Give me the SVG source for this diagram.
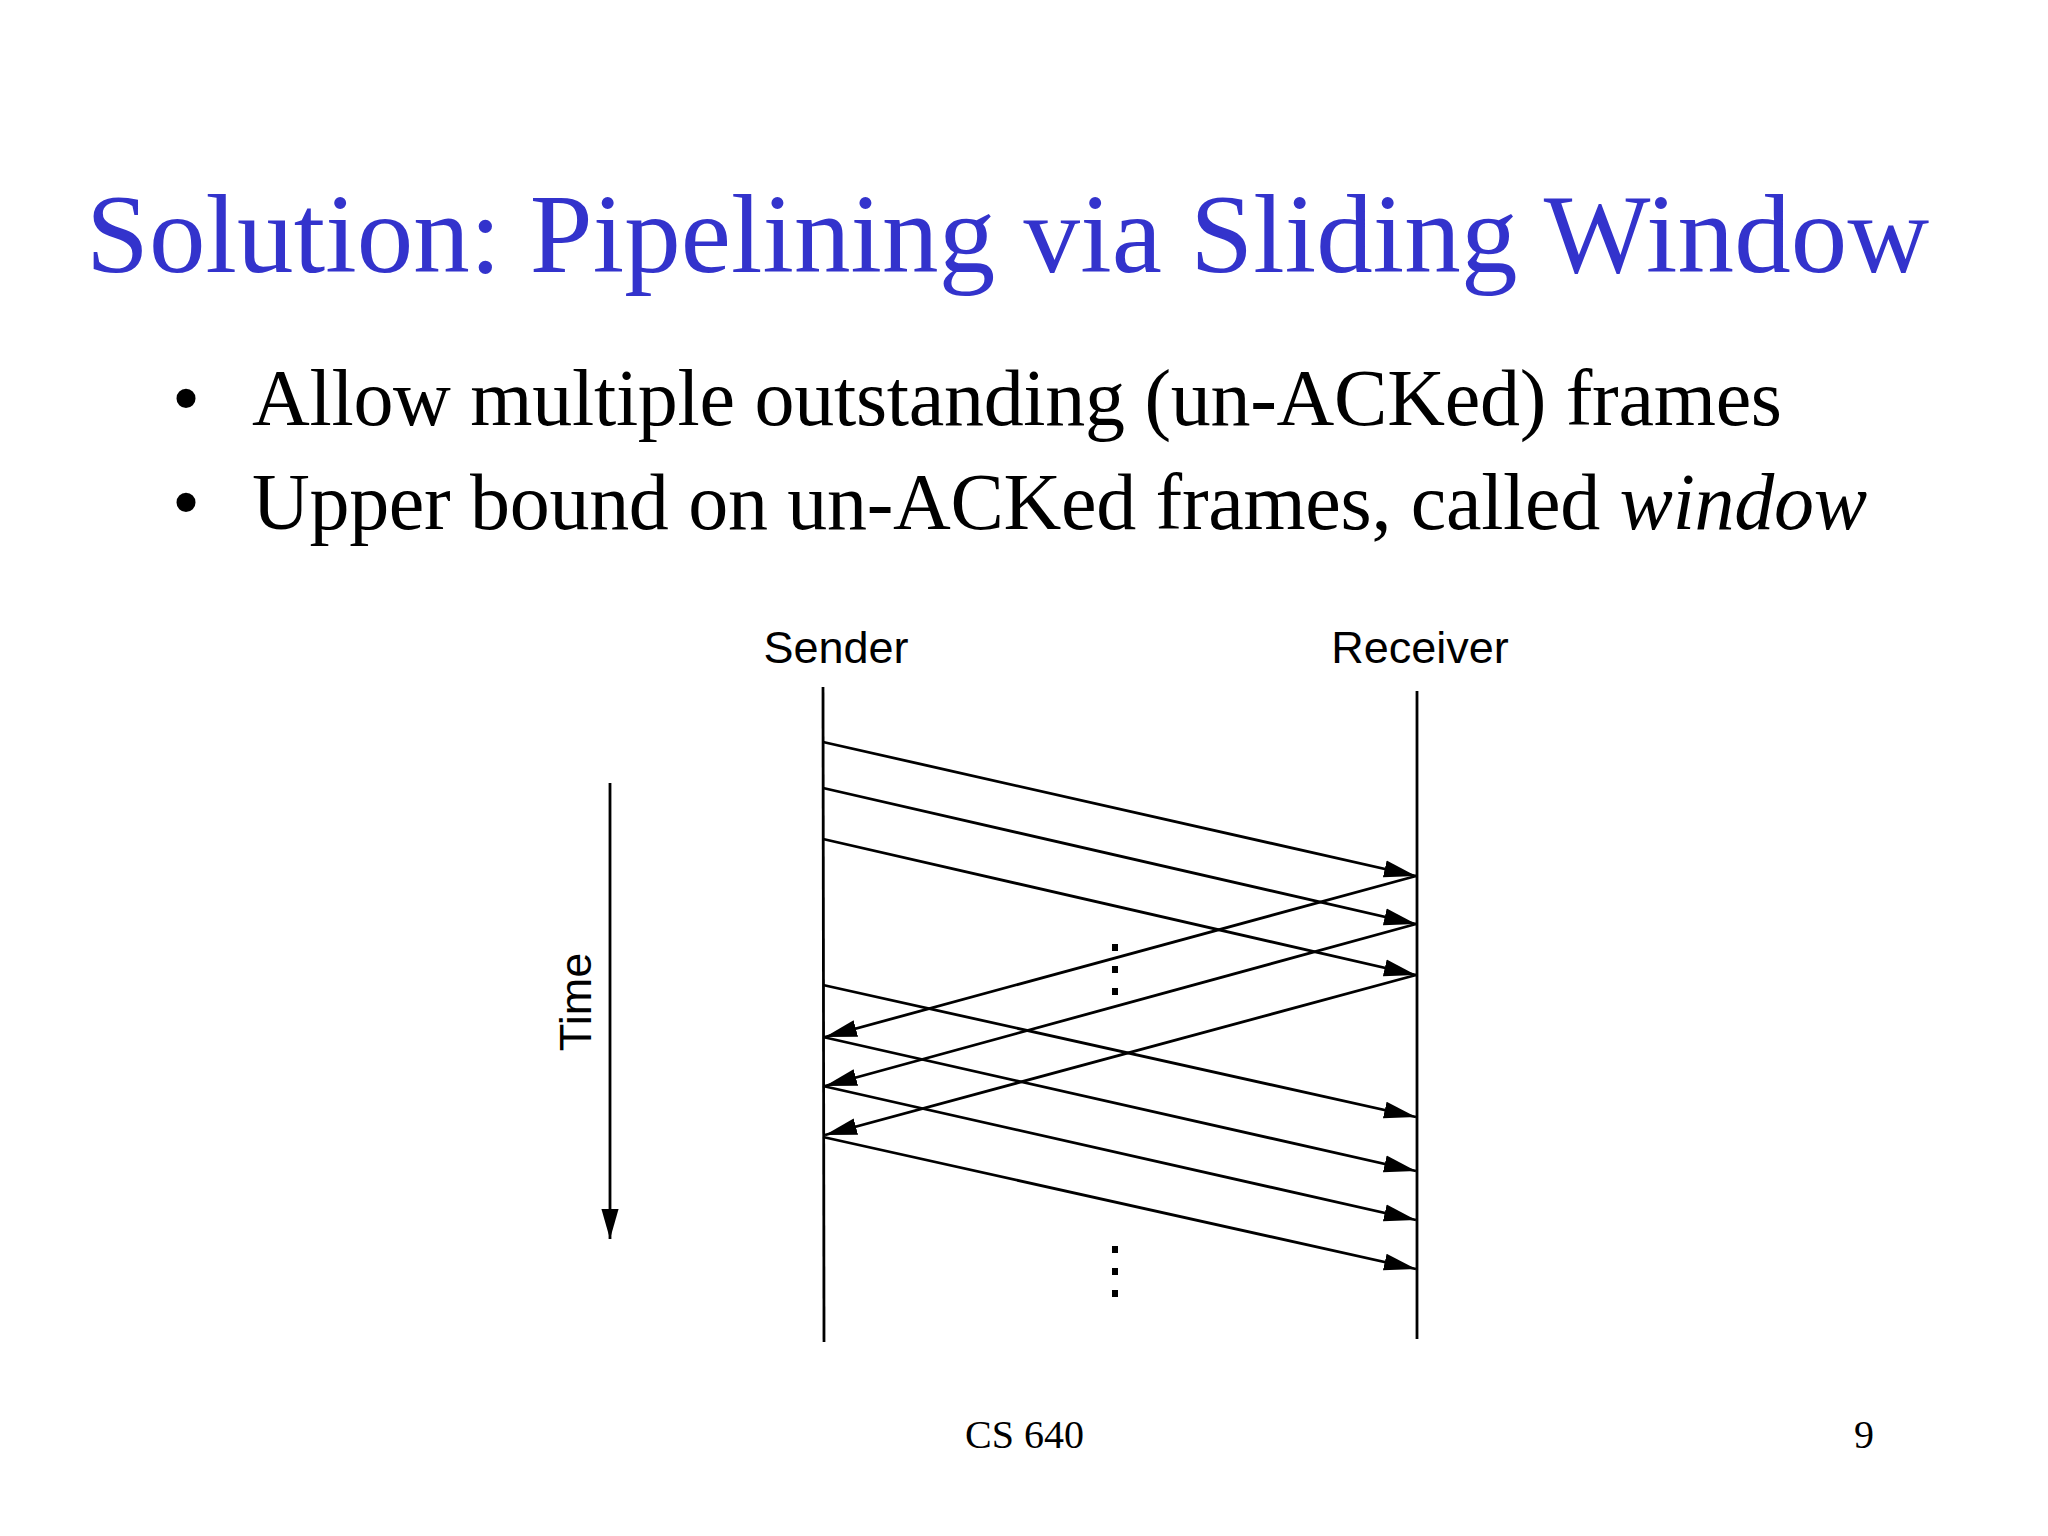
<svg xmlns="http://www.w3.org/2000/svg" width="2048" height="1536" viewBox="0 0 2048 1536">
<style>
.title{font-family:"Liberation Serif","Times New Roman",serif;font-size:113px;fill:#3333CC}
.body{font-family:"Liberation Serif","Times New Roman",serif;font-size:80px;fill:#000}
.foot{font-family:"Liberation Serif","Times New Roman",serif;font-size:40px;fill:#000}
.lbl{font-family:"Liberation Sans",Arial,sans-serif;font-size:45px;fill:#000}
.ln{stroke:#000;stroke-width:2.8;fill:none}
.msg{stroke:#000;stroke-width:2.8;fill:none;marker-end:url(#ah)}
.dot{fill:#000}
</style>
<defs>
<marker id="ah" markerUnits="userSpaceOnUse" markerWidth="32" markerHeight="18" viewBox="0 0 30 16" refX="30" refY="8" orient="auto">
<path d="M0,0 L30,8 L0,16 Z" fill="#000"/>
</marker>
<marker id="th" markerUnits="userSpaceOnUse" markerWidth="30" markerHeight="18" viewBox="0 0 28 16" refX="28" refY="8" orient="auto">
<path d="M0,0 L28,8 L0,16 Z" fill="#000"/>
</marker>
</defs>
<rect width="2048" height="1536" fill="#fff"/>
<text class="title" x="86" y="272" textLength="1843" lengthAdjust="spacing">Solution: Pipelining via Sliding Window</text>
<g id="bullets">
<text class="body" x="172" y="425">•</text>
<text class="body" x="252" y="425" textLength="1530" lengthAdjust="spacing">Allow multiple outstanding (un-ACKed) frames</text>
<text class="body" x="172" y="529">•</text>
<text class="body" x="252" y="529" textLength="1615" lengthAdjust="spacing">Upper bound on un-ACKed frames, called <tspan font-style="italic">window</tspan></text>
</g>
<g id="sender">
<text class="lbl" x="836" y="663" text-anchor="middle">Sender</text>
<line class="ln" x1="823" y1="687" x2="824" y2="1342"/>
</g>
<g id="receiver">
<text class="lbl" x="1420" y="663" text-anchor="middle">Receiver</text>
<line class="ln" x1="1417" y1="691" x2="1417" y2="1339"/>
</g>
<g id="time">
<text class="lbl" transform="translate(591,1002) rotate(-90)" text-anchor="middle">Time</text>
<line class="ln" x1="610" y1="783" x2="610" y2="1239" marker-end="url(#th)"/>
</g>
<g id="connectors">
<line class="msg" x1="823" y1="742" x2="1416" y2="876"/>
<line class="msg" x1="823" y1="788" x2="1416" y2="924"/>
<line class="msg" x1="823" y1="839" x2="1416" y2="975"/>
<line class="msg" x1="1416" y1="876" x2="825" y2="1037"/>
<line class="msg" x1="1416" y1="924" x2="825" y2="1086"/>
<line class="msg" x1="1416" y1="975" x2="825" y2="1135"/>
<line class="msg" x1="823" y1="985" x2="1416" y2="1117"/>
<line class="msg" x1="823" y1="1037" x2="1416" y2="1171"/>
<line class="msg" x1="823" y1="1086" x2="1416" y2="1220"/>
<line class="msg" x1="823" y1="1137" x2="1416" y2="1269"/>
</g>
<g id="ellipsis-upper">
<rect class="dot" x="1112" y="944" width="6" height="7"/>
<rect class="dot" x="1112" y="966" width="6" height="7"/>
<rect class="dot" x="1112" y="988" width="6" height="7"/>
</g>
<g id="ellipsis-lower">
<rect class="dot" x="1112" y="1246" width="6" height="7"/>
<rect class="dot" x="1112" y="1268" width="6" height="7"/>
<rect class="dot" x="1112" y="1290" width="6" height="7"/>
</g>
<g id="footer">
<text class="foot" x="965" y="1448">CS 640</text>
<text class="foot" x="1854" y="1448">9</text>
</g>
</svg>
